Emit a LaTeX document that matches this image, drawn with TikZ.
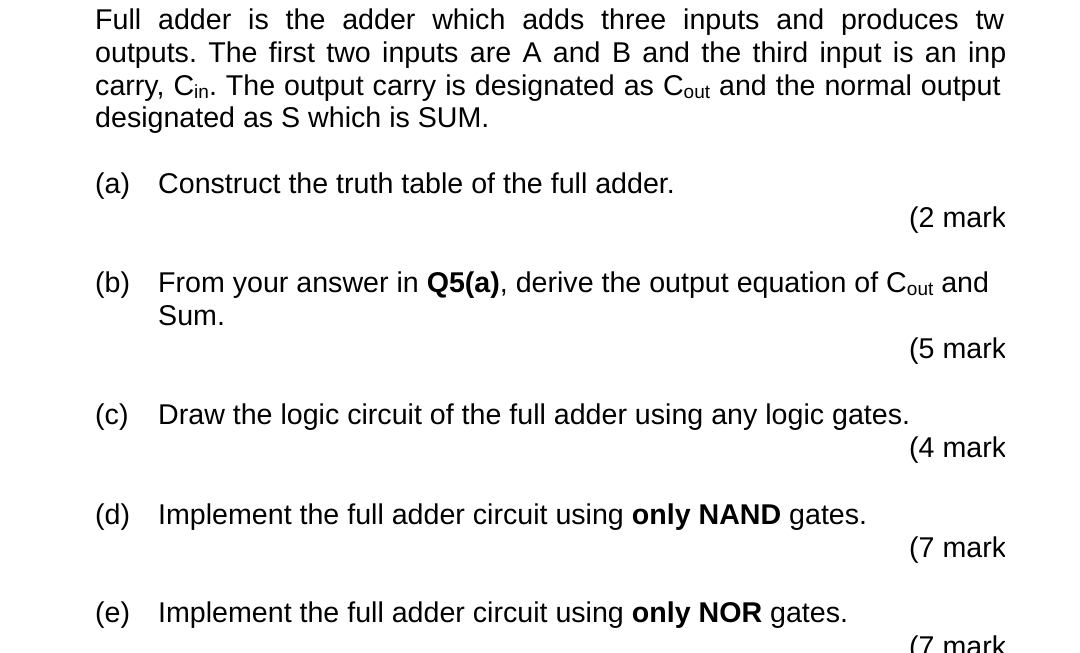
\documentclass[tikz,border=0pt]{standalone}
\usepackage{fontspec}
\setmainfont{Liberation Sans}
\frenchspacing
\newcommand{\sub}[1]{\raisebox{-0.25ex}{\fontsize{19}{19}\selectfont #1}}
\begin{document}
\begin{tikzpicture}[x=1pt,y=-1pt,
  txt/.style={anchor=base west,inner sep=0pt,font=\fontsize{28.6}{33}\selectfont}]
\useasboundingbox (0,0) rectangle (1080,653);
\clip (0,0) rectangle (1004,653);
\node[txt] (l1) at (95,30) {\makebox[925pt][s]{Full adder is the adder which adds three inputs and produces two}};
\node[txt] (l2) at (95,62) {\makebox[935pt][s]{outputs. The first two inputs are A and B and the third input is an input}};
\node[txt] (l3) at (95,95) {\makebox[935pt][s]{carry, C\sub{in}. The output carry is designated as C\sub{out} and the normal output is}};
\node[txt] (l4) at (95,127) {designated as S which is SUM.};
\node[txt] (a) at (95,193) {(a)};
\node[txt] (at) at (158,193) {Construct the truth table of the full adder.};
\node[txt] (am) at (909,227) {(2 marks)};
\node[txt] (b) at (95,292) {(b)};
\node[txt] (bt) at (158,292) {From your answer in \textbf{Q5(a)}, derive the output equation of C\sub{out} and};
\node[txt] (bt2) at (158,325) {Sum.};
\node[txt] (bm) at (909,358) {(5 marks)};
\node[txt] (c) at (95,424) {(c)};
\node[txt] (ct) at (158,424) {Draw the logic circuit of the full adder using any logic gates.};
\node[txt] (cm) at (909,457) {(4 marks)};
\node[txt] (d) at (95,524) {(d)};
\node[txt] (dt) at (158,524) {Implement the full adder circuit using \textbf{only NAND} gates.};
\node[txt] (dm) at (909,557) {(7 marks)};
\node[txt] (e) at (95,622) {(e)};
\node[txt] (et) at (158,622) {Implement the full adder circuit using \textbf{only NOR} gates.};
\node[txt] (em) at (909,656) {(7 marks)};
\end{tikzpicture}
\end{document}
